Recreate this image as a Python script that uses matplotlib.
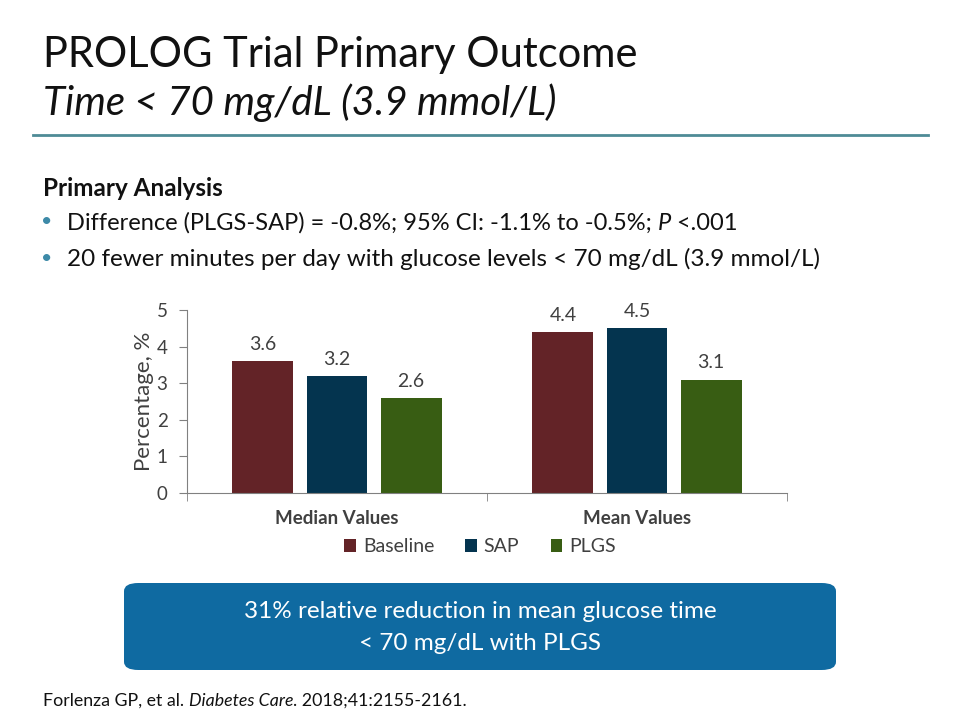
import matplotlib
matplotlib.use("Agg")
import matplotlib.pyplot as plt
from matplotlib.patches import FancyBboxPatch
from matplotlib.lines import Line2D
import numpy as np

categories = ["Median Values", "Mean Values"]
series_names = ["Baseline", "SAP", "PLGS"]
baseline = [3.6, 4.4]
sap = [3.2, 4.5]
plgs = [2.6, 3.1]
yticks = [0, 1, 2, 3, 4, 5]

colors = ["#632327", "#04344f", "#385d13"]
FONT = "Lato"
plt.rcParams['font.family'] = [FONT, 'DejaVu Sans']

W, H = 960, 720
fig = plt.figure(figsize=(9.6, 7.2), dpi=100)
fig.patch.set_facecolor("white")
renderer = fig.canvas.get_renderer()

def fx(px): return px / W
def fy(py): return 1 - py / H

def runs(x0, y, pieces, **kw):
    """Draw consecutive text pieces [(text, style)] starting at pixel x0."""
    x = x0
    for txt, style in pieces:
        t = fig.text(fx(x), fy(y), txt, style=style, va="center", ha="left", **kw)
        bb = t.get_window_extent(renderer=renderer)
        x += bb.width

# Title
fig.text(fx(43), fy(55), "PROLOG Trial Primary Outcome", fontsize=30, color="#111111", va="center", ha="left")
fig.text(fx(43), fy(103), "Time < 70 mg/dL (3.9 mmol/L)", fontsize=29, style="italic", color="#111111", va="center", ha="left")
fig.add_artist(Line2D([fx(33), fx(928)], [fy(135), fy(135)], color="#4e8b96", lw=2))

# Bullets
fig.text(fx(43), fy(188), "Primary Analysis", fontsize=17.5, weight="bold", color="#111111", va="center")
runs(67, 223, [("Difference (PLGS-SAP) = -0.8%; 95% CI: -1.1% to -0.5%; ", "normal"),
               ("P", "italic"), (" <.001", "normal")], fontsize=17, color="#111111")
runs(67, 259, [("20 fewer minutes per day with glucose levels < 70 mg/dL (3.9 mmol/L)", "normal")],
     fontsize=17.5, color="#111111")
for y in (222, 258):
    fig.text(fx(47), fy(y), "\u2022", fontsize=14, color="#3d8aa8", va="center", ha="center")

# Chart
ax = fig.add_axes([fx(187), fy(493), fx(787) - fx(187), (493 - 310) / H])
x = np.arange(len(categories))
spacing = 0.2467
bw = 0.2033
for k, (vals, name) in enumerate(zip([baseline, sap, plgs], series_names)):
    pos = x + (k - 1) * spacing
    ax.bar(pos, vals, width=bw, color=colors[k], label=name, zorder=2)
    for p, v in zip(pos, vals):
        ax.annotate(f"{v:.1f}", (p, v), xytext=(0, 6), textcoords="offset points",
                    ha="center", va="bottom", fontsize=14, color="#404040")

ax.set_xlim(-0.5, 1.5)
ax.set_ylim(0, 5)
ax.set_yticks(yticks)
ax.tick_params(axis="y", labelsize=13.5, colors="#404040", length=6, color="#808080", pad=8)
ax.set_xticks(x)
ax.set_xticklabels(categories, fontsize=13.5, weight="bold", color="#404040")
ax.tick_params(axis="x", length=0, pad=12)
ax.set_xticks([-0.5, 0.5, 1.5], minor=True)
ax.tick_params(axis="x", which="minor", length=6, color="#808080")
for s in ["top", "right"]:
    ax.spines[s].set_visible(False)
for s in ["left", "bottom"]:
    ax.spines[s].set_color("#808080")
ax.set_ylabel("Percentage, %", fontsize=16, color="#404040", labelpad=2)

leg = ax.legend(loc="center", bbox_to_anchor=(fx(480), fy(547)), bbox_transform=fig.transFigure,
                ncol=3, frameon=False, fontsize=14, handlelength=0.6, handleheight=0.6,
                handletextpad=0.35, columnspacing=1.6, borderpad=0)
for t in leg.get_texts():
    t.set_color("#404040")

# Box
box = FancyBboxPatch((fx(124), fy(670)), fx(836) - fx(124), (670 - 583) / H,
                     boxstyle="round,pad=0,rounding_size=0.015", transform=fig.transFigure,
                     facecolor="#0f6aa1", edgecolor="none", mutation_aspect=H / W)
fig.add_artist(box)
fig.text(fx(480), fy(611), "31% relative reduction in mean glucose time", fontsize=17.5, color="white", ha="center", va="center")
fig.text(fx(480), fy(643), "< 70 mg/dL with PLGS", fontsize=17.5, color="white", ha="center", va="center")

# Footer
runs(43, 701, [("Forlenza GP, et al. ", "normal"), ("Diabetes Care", "italic"),
               (". 2018;41:2155-2161.", "normal")], fontsize=12.8, color="#111111")

fig.savefig("out.png", dpi=100)
